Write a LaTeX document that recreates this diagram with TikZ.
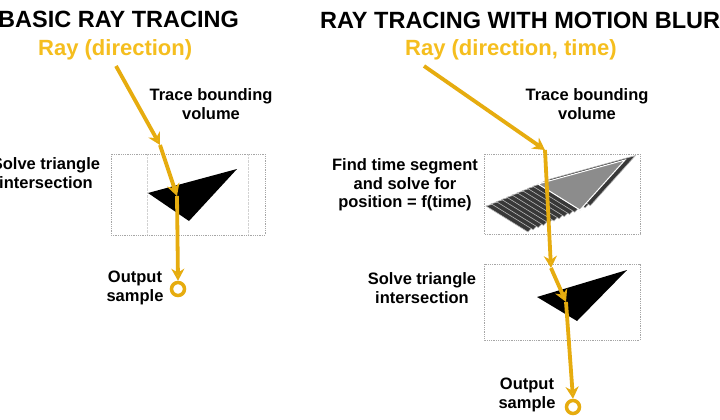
\documentclass[tikz,border=0pt]{standalone}
\usepackage{fontspec}
\usetikzlibrary{arrows.meta}
\setmainfont{Liberation Sans}
\begin{document}
\begin{tikzpicture}[x=1pt,y=-1pt,
  lbl/.style={font=\fontsize{16.5}{18.5}\selectfont\bfseries,align=center,inner sep=0},
  ttl/.style={font=\fontsize{23.5}{25}\selectfont\bfseries,anchor=west,inner sep=0},
  rayt/.style={font=\fontsize{22}{24}\selectfont\bfseries,text=ray,anchor=west,inner sep=0},
  box/.style={draw=gray!70,densely dotted,line width=0.8},
  ray/.style={draw=raydark,line width=3.8,-{Stealth[length=12pt,width=13pt,fill=ray]}},
  tri/.style={fill=black}]
\definecolor{ray}{RGB}{245,190,30}
\definecolor{raydark}{RGB}{230,172,15}
\useasboundingbox (0,0) rectangle (720,420);
\fill[white] (0,0) rectangle (720,420);
% titles
\node[ttl] (t1) at (-2,19) {BASIC RAY TRACING};
\node[ttl] (t2) at (320,20) {RAY TRACING WITH MOTION BLUR};
\node[rayt] (r1) at (38,50) {Ray (direction)};
\node[rayt] (r2) at (405,50) {Ray (direction, time)};
% left
\node[lbl] (l1) at (211,104) {Trace bounding\\volume};
\node[lbl] (l2) at (46,173) {Solve triangle\\intersection};
\node[lbl] (l3) at (135,288) {Output\\sample};
\draw[box] (111,154) rectangle (265,235);
\draw[draw=gray!35,densely dotted] (147,154) -- (147,235) (248,154) -- (248,235);
\fill[tri] (148,193) -- (237,169) -- (189,221) -- cycle;
\coordinate (a0) at (116,66);
\coordinate (a1) at (160,145);
\coordinate (a2) at (177,196);
\node[circle,draw=raydark,line width=3.5,fill=white,minimum size=13pt,inner sep=0] (o1) at (178,289) {};
\draw[ray] (a0) -- (a1);
\draw[ray] (a1) -- (a2);
\draw[ray] (a2) -- (o1.north);
% right
\node[lbl] (m1) at (587,104) {Trace bounding\\volume};
\node[lbl] (m2) at (405,185) {Find time segment\\and solve for\\position = f(time)};
\node[lbl] (m3) at (422,288) {Solve triangle\\intersection};
\node[lbl] (m4) at (527,395) {Output\\sample};
\draw[box] (484,154) rectangle (640,234);
\foreach \i in {10,9,...,-2}{
  \pgfmathsetmacro\dx{-5.2*\i}\pgfmathsetmacro\dy{2.2*\i}
  \fill[fill=black!78,draw=gray!55,line width=0.6,shift={(\dx,\dy)}] (538,184) -- (625,160) -- (580,210) -- cycle;
}
\fill[fill=gray!90!white,draw=white,line width=1] (538,184) -- (625,160) -- (580,210) -- cycle;
\draw[box] (484,264) rectangle (640,340);
\fill[tri] (537,297) -- (627,270) -- (577,321) -- cycle;
\coordinate (b0) at (424,66);
\coordinate (b1) at (545,150);
\coordinate (b2) at (551,268);
\coordinate (b3) at (566,302);
\node[circle,draw=raydark,line width=3.5,fill=white,minimum size=13pt,inner sep=0] (o2) at (573,407) {};
\draw[ray] (b0) -- (b1);
\draw[ray] (b1) -- (b2);
\draw[ray] (b2) -- (b3);
\draw[ray] (b3) -- (o2.north);
\end{tikzpicture}
\end{document}
